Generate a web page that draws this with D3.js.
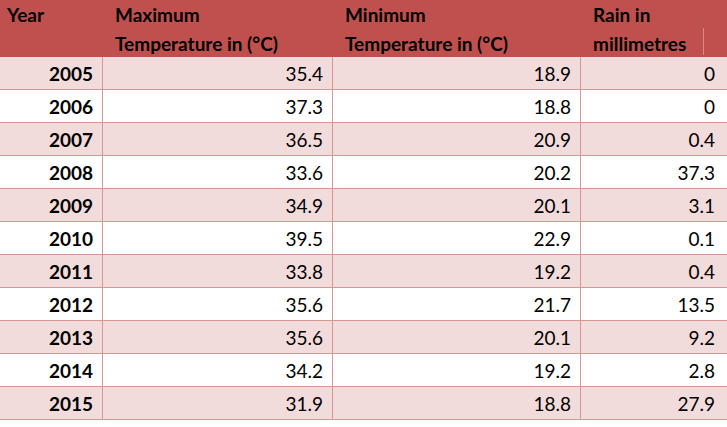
<!DOCTYPE html><html><head><meta charset="utf-8"><script src="https://d3js.org/d3.v7.min.js"></script>
<style>body{margin:0;background:#fff}</style></head><body><svg id="c" width="727" height="427"></svg><script>
const headers=[["Year"],["Maximum","Temperature in (°C)"],["Minimum","Temperature in (°C)"],["Rain in","millimetres"]];
const years=[2005,2006,2007,2008,2009,2010,2011,2012,2013,2014,2015];
const maxTemp=["35.4","37.3","36.5","33.6","34.9","39.5","33.8","35.6","35.6","34.2","31.9"];
const minTemp=["18.9","18.8","20.9","20.2","20.1","22.9","19.2","21.7","20.1","19.2","18.8"];
const rain=["0","0","0.4","37.3","3.1","0.1","0.4","13.5","9.2","2.8","27.9"];
const svg=d3.select("#c");
const colEdges=[0,102,332,580,727];
const headH=57,rowH=33;
const y=d3.scaleBand().domain(years).range([headH,headH+rowH*years.length]).padding(0);
const font="Lato, 'Open Sans', sans-serif";
svg.append("rect").attr("x",0).attr("y",0).attr("width",727).attr("height",headH).attr("fill","#C0504D");
svg.append("line").attr("x1",703.5).attr("x2",703.5).attr("y1",28).attr("y2",55).attr("stroke","#d98886").attr("stroke-width",1);
headers.forEach((h,i)=>{h.forEach((t,j)=>{svg.append("text").attr("x",colEdges[i]+(i==0?7:13)).attr("y",22+j*29)
 .attr("font-family",font).attr("font-weight","bold").attr("font-size",19).attr("fill","#000").text(t);});});
const cols=[years.map(String),maxTemp,minTemp,rain];
years.forEach((yr,r)=>{
 svg.append("rect").attr("x",0).attr("y",y(yr)).attr("width",727).attr("height",rowH).attr("fill",r%2==0?"#F2DCDB":"#FFFFFF");
});
years.forEach((yr,r)=>{
 svg.append("line").attr("x1",0).attr("x2",727).attr("y1",y(yr)+rowH-0.5).attr("y2",y(yr)+rowH-0.5).attr("stroke","#D99594");
});
[102,332,580].forEach(x=>svg.append("line").attr("x1",x+0.5).attr("x2",x+0.5).attr("y1",headH).attr("y2",headH+rowH*years.length).attr("stroke","#D99594"));
cols.forEach((c,i)=>{c.forEach((v,r)=>{svg.append("text").attr("x",colEdges[i+1]-(i==3?12:9)).attr("y",y(years[r])+24)
 .attr("text-anchor","end").attr("font-family",font).attr("font-weight",i==0?"bold":"normal").attr("font-size",19).attr("fill","#000").text(v);});});
</script></body></html>
